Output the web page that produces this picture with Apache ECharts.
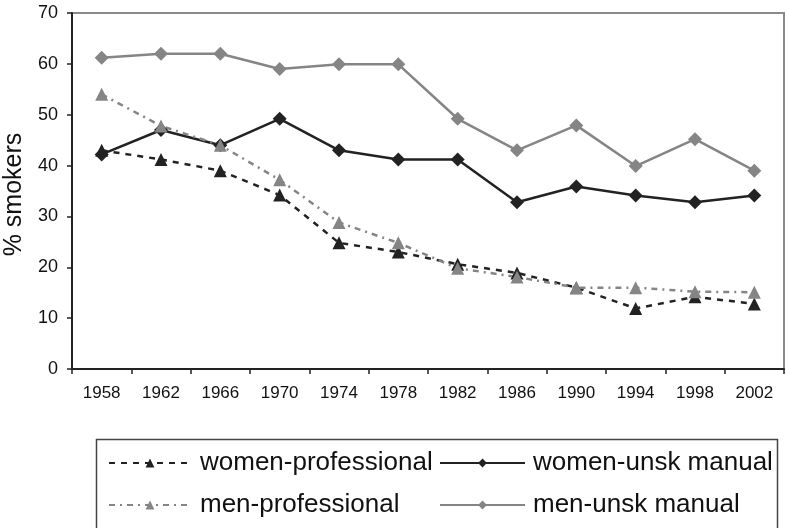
<!DOCTYPE html>
<html><head><meta charset="utf-8">
<script src="https://cdn.jsdelivr.net/npm/echarts@6/dist/echarts.min.js"></script>
<style>html,body{margin:0;padding:0;background:#fff}#c{width:786px;height:528px}</style>
</head><body><div id="c"></div>
<script>
const years = ['1958','1962','1966','1970','1974','1978','1982','1986','1990','1994','1998','2002'];
const womenProfessional = [43, 41.2, 39, 34.2, 24.8, 23, 20.6, 18.9, 16, 11.9, 14.2, 12.8];
const womenUnskManual   = [42.2, 47, 44, 49.2, 43, 41.2, 41.2, 32.8, 35.9, 34.1, 32.8, 34.1];
const menProfessional   = [54, 47.8, 44, 37.2, 28.8, 24.8, 19.8, 18.1, 16, 16, 15.2, 15.1];
const menUnskManual     = [61.2, 62, 62, 59, 59.9, 59.9, 49.2, 43, 47.9, 39.9, 45.2, 39];
const yTicks = [0, 10, 20, 30, 40, 50, 60, 70];

const DARK = '#222222', GRAY = '#858585';
const FONT = '"Liberation Sans", Arial, sans-serif';
const chart = echarts.init(document.getElementById('c'), null, {renderer: 'canvas'});

function mkSeries(name, data, color, lineType, symbol, size) {
  return {
    name, type: 'line', data, symbol, symbolSize: size,
    lineStyle: {color, width: 2.5, type: lineType},
    itemStyle: {color},
    animation: false
  };
}

chart.setOption({
  animation: false,
  backgroundColor: '#fff',
  textStyle: {fontFamily: FONT},
  grid: {left: 72, right: 2, top: 13, bottom: 159, show: true, borderColor: '#8a8a8a', borderWidth: 2,
         containLabel: false, outerBoundsMode: 'none'},
  xAxis: {
    type: 'category', data: years, boundaryGap: true,
    axisLine: {lineStyle: {color: '#222', width: 2}},
    axisTick: {show: true, length: 5, lineStyle: {color: '#222', width: 1.5}},
    axisLabel: {fontSize: 17, color: '#111', margin: 16, fontFamily: FONT}
  },
  yAxis: {
    type: 'value', min: yTicks[0], max: yTicks[yTicks.length - 1], interval: 10,
    name: '% smokers', nameLocation: 'middle', nameGap: 45, nameRotate: 90,
    nameTextStyle: {fontSize: 25, color: '#111', fontFamily: FONT, padding: [0, 7, 0, 0]},
    axisLine: {show: true, lineStyle: {color: '#222', width: 2}},
    axisTick: {show: true, length: 5, lineStyle: {color: '#222', width: 1.5}},
    axisLabel: {fontSize: 18, color: '#111', margin: 14, fontFamily: FONT},
    splitLine: {show: false}
  },
  legend: [
    {
      data: ['women-professional', 'men-professional'], orient: 'vertical',
      left: 103, top: 445, itemWidth: 82, itemHeight: 11, itemGap: 16,
      textStyle: {fontSize: 26, color: '#111', fontFamily: FONT, padding: [0, 0, 0, 4]}
    },
    {
      data: ['women-unsk manual', 'men-unsk manual'], orient: 'vertical',
      left: 434, top: 445, itemWidth: 85, itemHeight: 11, itemGap: 16,
      textStyle: {fontSize: 26, color: '#111', fontFamily: FONT, padding: [0, 0, 0, 3]}
    }
  ],
  graphic: [{
    type: 'rect', left: 94, top: 437, shape: {width: 681, height: 90},
    style: {fill: 'none', stroke: '#444', lineWidth: 1.5}, silent: true
  }],
  series: [
    mkSeries('women-professional', womenProfessional, DARK, [6, 6], 'triangle', 13),
    mkSeries('women-unsk manual', womenUnskManual, DARK, 'solid', 'diamond', 14),
    mkSeries('men-professional', menProfessional, GRAY, [6, 5, 2, 5], 'triangle', 13),
    mkSeries('men-unsk manual', menUnskManual, GRAY, 'solid', 'diamond', 14)
  ]
});
</script></body></html>
